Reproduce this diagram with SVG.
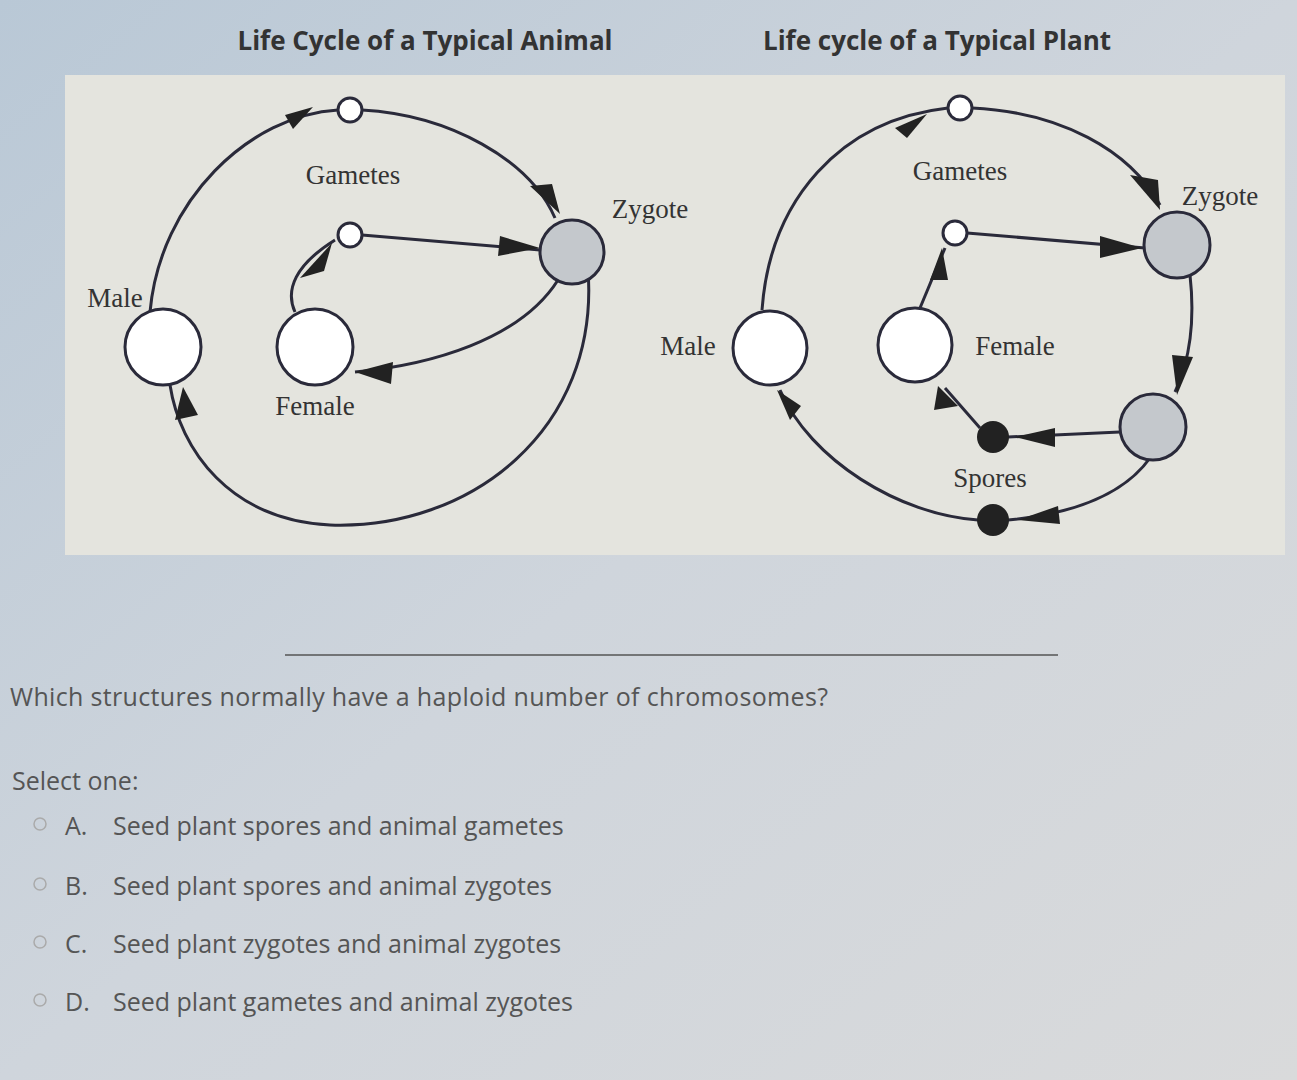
<svg xmlns="http://www.w3.org/2000/svg" width="1297" height="1080" viewBox="0 0 1297 1080">
<defs>
<linearGradient id="bg" x1="0" y1="0" x2="1" y2="1"><stop offset="0" stop-color="#b9c8d6"/><stop offset="0.5" stop-color="#cfd5dc"/><stop offset="1" stop-color="#d9dadb"/></linearGradient>
</defs>
<style>
.l{fill:none;stroke:#2a2a3a;stroke-width:3}
.o{fill:#fff;stroke:#2a2a3a;stroke-width:3}
.g{fill:#c4c8cc;stroke:#2a2a3a;stroke-width:3}
.k{fill:#222}
.s{font-family:"Liberation Serif",serif;font-size:27px;fill:#333}
.t{font-family:"Open Sans","Liberation Sans",sans-serif;font-size:26px;fill:#333;font-weight:bold}
.q{font-family:"Open Sans","Liberation Sans",sans-serif;font-size:25px;fill:#555}
.r{fill:none;stroke:#aaa;stroke-width:1.5}
</style>
<rect width="1297" height="1080" fill="url(#bg)"/>
<rect x="65" y="75" width="1220" height="480" fill="#e4e4de"/>
<text class="t" x="425" y="50" text-anchor="middle">Life Cycle of a Typical Animal</text>
<text class="t" x="937" y="50" text-anchor="middle">Life cycle of a Typical Plant</text>
<g id="connectors">
<path class="l" d="M150,312 C160,200 250,115 338,110"/>
<path class="l" d="M362,110 C450,115 530,160 555,218"/>
<path class="l" d="M362,235 L540,250"/>
<path class="l" d="M558,280 C520,340 430,365 355,372"/>
<path class="l" d="M295,312 C285,290 295,265 335,240"/>
<path class="l" d="M588,270 C600,430 470,530 330,525 C230,520 180,450 170,385"/>
<path class="k" d="M285,115 l28,-8 l-20,22 z"/>
<path class="k" d="M530,186 l30,28 l-8,-30 z"/>
<path class="k" d="M500,236 l40,12 l-42,8 z"/>
<path class="k" d="M393,362 l-38,10 l36,12 z"/>
<path class="k" d="M300,278 l32,-35 l-8,28 z"/>
<path class="k" d="M175,420 l8,-33 l15,28 z"/>
<path class="l" d="M762,310 C770,200 840,120 948,108"/>
<path class="l" d="M972,108 C1060,112 1130,150 1160,205"/>
<path class="l" d="M967,233 L1145,248"/>
<path class="l" d="M1190,275 C1195,320 1190,360 1175,392"/>
<path class="l" d="M1120,432 L1008,437"/>
<path class="l" d="M980,428 L945,388"/>
<path class="l" d="M920,308 L945,248"/>
<path class="l" d="M1150,458 C1120,500 1060,515 1008,520"/>
<path class="l" d="M978,520 C900,515 810,460 780,390"/>
<path class="k" d="M895,128 l32,-14 l-20,24 z"/>
<path class="k" d="M1130,175 l30,35 l-2,-30 z"/>
<path class="k" d="M1100,236 l42,12 l-42,10 z"/>
<path class="k" d="M1172,355 l5,40 l16,-38 z"/>
<path class="k" d="M1055,428 l-40,9 l40,10 z"/>
<path class="k" d="M938,386 l20,20 l-24,4 z"/>
<path class="k" d="M930,280 l12,-32 l6,32 z"/>
<path class="k" d="M1058,506 l-40,14 l42,4 z"/>
<path class="k" d="M790,420 l-13,-30 l24,16 z"/>
</g>
<g id="animal-top"><circle class="o" cx="350" cy="110" r="12"/></g>
<g id="animal-gamete"><circle class="o" cx="350" cy="235" r="12"/></g>
<g id="animal-zygote"><circle class="g" cx="572" cy="252" r="32"/></g>
<g id="animal-male"><circle class="o" cx="163" cy="347" r="38"/><text class="s" x="115" y="307" text-anchor="middle">Male</text></g>
<g id="animal-female"><circle class="o" cx="315" cy="347" r="38"/><text class="s" x="315" y="415" text-anchor="middle">Female</text></g>
<text class="s" x="353" y="184" text-anchor="middle">Gametes</text>
<text class="s" x="650" y="218" text-anchor="middle">Zygote</text>
<g id="plant-top"><circle class="o" cx="960" cy="108" r="12"/></g>
<g id="plant-gamete"><circle class="o" cx="955" cy="233" r="12"/></g>
<g id="plant-zygote"><circle class="g" cx="1177" cy="245" r="33"/><text class="s" x="1220" y="205" text-anchor="middle">Zygote</text></g>
<g id="plant-sporophyte"><circle class="g" cx="1153" cy="427" r="33"/></g>
<g id="plant-male"><circle class="o" cx="770" cy="348" r="37"/><text class="s" x="688" y="355" text-anchor="middle">Male</text></g>
<g id="plant-female"><circle class="o" cx="915" cy="345" r="37"/><text class="s" x="1015" y="355" text-anchor="middle">Female</text></g>
<g id="spore1"><circle class="k" cx="993" cy="437" r="16"/></g>
<g id="spore2"><circle class="k" cx="993" cy="520" r="16"/></g>
<text class="s" x="990" y="487" text-anchor="middle">Spores</text>
<text class="s" x="960" y="180" text-anchor="middle">Gametes</text>
<line x1="285" y1="655" x2="1058" y2="655" stroke="#555" stroke-width="1.5"/>
<text class="q" x="10" y="706" font-size="26" textLength="818">Which structures normally have a haploid number of chromosomes?</text>
<text class="q" x="12" y="790" fill="#666">Select one:</text>
<circle class="r" cx="40" cy="824" r="6"/><text class="q" x="65" y="835">A.</text><text class="q" x="113" y="835">Seed plant spores and animal gametes</text>
<circle class="r" cx="40" cy="884" r="6"/><text class="q" x="65" y="895">B.</text><text class="q" x="113" y="895">Seed plant spores and animal zygotes</text>
<circle class="r" cx="40" cy="942" r="6"/><text class="q" x="65" y="953">C.</text><text class="q" x="113" y="953">Seed plant zygotes and animal zygotes</text>
<circle class="r" cx="40" cy="1000" r="6"/><text class="q" x="65" y="1011">D.</text><text class="q" x="113" y="1011">Seed plant gametes and animal zygotes</text>
</svg>
